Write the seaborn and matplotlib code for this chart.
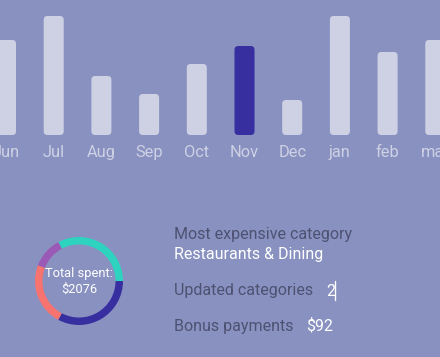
import matplotlib

matplotlib.use("Agg")

import matplotlib.pyplot as plt
import pandas as pd
import seaborn as sns
from matplotlib.lines import Line2D
from matplotlib.patches import FancyBboxPatch

months = ["Jun", "Jul", "Aug", "Sep", "Oct", "Nov", "Dec", "jan", "feb", "mar"]
spent = [95, 119, 59, 41, 71, 89, 35, 119, 83, 95]
highlight = "Nov"

categories = ["Restaurants & Dining", "Bills", "Shopping", "Other"]
category_spent = [681, 681, 478, 236]
category_colors = ["#2ED3BF", "#372FA0", "#F7736F", "#9B59B6"]

total_spent = 2076
updated_categories = 2
bonus_payments = 92

BG = "#8891C0"
BAR = "#CED1E4"
MUTED = "#4E5272"

sns.set_theme(style="white", rc={"axes.facecolor": BG, "figure.facecolor": BG})
plt.rcParams["font.family"] = ["Roboto", "DejaVu Sans"]

W, H = 440, 357
fig = plt.figure(figsize=(W / 100, H / 100), dpi=100)

# monthly bars
base = 135
ax = fig.add_axes([0, (H - base) / H, 1, base / H])
df = pd.DataFrame({"month": months, "spent": spent})
palette = {m: ("#372FA0" if m == highlight else BAR) for m in months}
sns.barplot(data=df, x="month", y="spent", hue="month", palette=palette,
            width=0.42, legend=False, saturation=1, ax=ax)
ax.set_xlim(-0.126, (W - 6) / 47.7)
ax.set_ylim(0, base)
x0, x1 = ax.get_xlim()
aspect = (base / (x1 - x0)) * (W / base)  # y data units per x data unit at equal px
for p in list(ax.patches):
    fb = FancyBboxPatch((p.get_x(), p.get_y()), p.get_width(), p.get_height(),
                        boxstyle="round,pad=0,rounding_size=0.08",
                        mutation_aspect=aspect, facecolor=p.get_facecolor(),
                        edgecolor="none", clip_on=False)
    p.remove()
    ax.add_patch(fb)
ax.set_xlabel("")
ax.set_ylabel("")
ax.set_yticks([])
ax.tick_params(axis="x", length=0, pad=7.5, labelsize=11.8, labelcolor=BAR)
sns.despine(ax=ax, left=True, bottom=True)

# donut
cx, cy, r = 79, 281, 55
dax = fig.add_axes([(cx - r) / W, (H - cy - r) / H, 2 * r / W, 2 * r / H])
dax.pie(category_spent, colors=category_colors, startangle=118, counterclock=False,
        radius=1, wedgeprops={"width": 0.17, "edgecolor": "none"})
dax.set_aspect("equal")
dax.text(0, 0, f"Total spent:\n${total_spent}", ha="center", va="center",
         color="white", fontsize=9.3, linespacing=1.3)


def px(x, y):
    return x / W, 1 - y / H


fs = 11.5
fig.text(*px(174, 235), "Most expensive category", color=MUTED, fontsize=fs, va="center")
fig.text(*px(174, 254), categories[0], color="white", fontsize=fs, va="center")
fig.text(*px(174, 291), "Updated categories", color=MUTED, fontsize=fs, va="center")
fig.text(*px(326, 291), str(updated_categories), color="white", fontsize=fs, va="center")
fig.add_artist(Line2D([335 / W, 335 / W], [1 - 281 / H, 1 - 300 / H], color="white", lw=1))
fig.text(*px(174, 326), "Bonus payments", color=MUTED, fontsize=fs, va="center")
fig.text(*px(306, 326), f"${bonus_payments}", color="white", fontsize=fs, va="center")

fig.savefig("out.png", dpi=100, facecolor=BG)
